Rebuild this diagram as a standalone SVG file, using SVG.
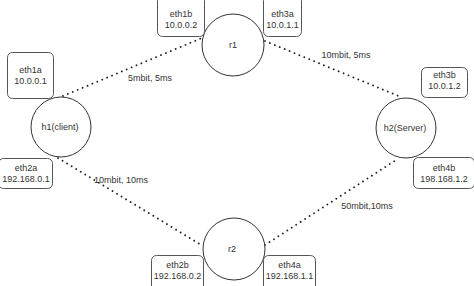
<svg xmlns="http://www.w3.org/2000/svg" width="474" height="286" viewBox="0 0 474 286">
<style>
text{font-family:"Liberation Sans",Arial,sans-serif;font-size:9px;fill:#333;text-anchor:middle}
.box{fill:#fff;stroke:#555;stroke-width:1}
.node{fill:#fff;stroke:#333;stroke-width:1}
.link{stroke:#222;stroke-width:1.9;stroke-dasharray:0.01 5.3;stroke-linecap:round;fill:none}
</style>
<rect width="474" height="286" fill="#fff"/>
<g id="connectors">
<line class="link" x1="63" y1="96" x2="202" y2="38"/>
<line class="link" x1="265" y1="41" x2="401" y2="97"/>
<line class="link" x1="58" y1="158" x2="203" y2="246"/>
<line class="link" x1="265" y1="245" x2="396" y2="160"/>
<text x="150" y="81">5mbit, 5ms</text>
<text x="346" y="58">10mbit, 5ms</text>
<text x="121" y="183">10mbit, 10ms</text>
<text x="367" y="209">50mbit,10ms</text>
</g>
<g id="r1"><circle class="node" cx="233" cy="45" r="31"/><text x="233" y="48">r1</text></g>
<g id="h1"><circle class="node" cx="61" cy="127" r="30"/><text x="60" y="130">h1(client)</text></g>
<g id="h2"><circle class="node" cx="406" cy="128" r="30"/><text x="405" y="131">h2(Server)</text></g>
<g id="r2"><circle class="node" cx="234" cy="249" r="31"/><text x="232" y="252">r2</text></g>
<g id="eth1a"><rect class="box" x="7.5" y="52.5" width="46" height="46" rx="5"/><text x="30.5" y="73">eth1a</text><text x="30.5" y="84">10.0.0.1</text></g>
<g id="eth1b"><rect class="box" x="157.5" y="-4.5" width="47" height="41" rx="5"/><text x="181" y="17">eth1b</text><text x="181" y="28">10.0.0.2</text></g>
<g id="eth3a"><rect class="box" x="263.5" y="-4.5" width="38" height="41" rx="5"/><text x="282.5" y="17">eth3a</text><text x="282.5" y="28">10.0.1.1</text></g>
<g id="eth3b"><rect class="box" x="421.5" y="67.5" width="46" height="30" rx="5"/><text x="444.5" y="78">eth3b</text><text x="444.5" y="89">10.0.1.2</text></g>
<g id="eth2a"><rect class="box" x="-1.5" y="158.5" width="54" height="30" rx="5"/><text x="26" y="171">eth2a</text><text x="26" y="182">192.168.0.1</text></g>
<g id="eth4b"><rect class="box" x="413.5" y="157.5" width="61" height="31" rx="5"/><text x="444" y="171">eth4b</text><text x="444" y="182">198.168.1.2</text></g>
<g id="eth2b"><rect class="box" x="151.5" y="255.5" width="52" height="36" rx="5"/><text x="177.5" y="268">eth2b</text><text x="177.5" y="279">192.168.0.2</text></g>
<g id="eth4a"><rect class="box" x="263.5" y="255.5" width="52" height="36" rx="5"/><text x="289.5" y="268">eth4a</text><text x="289.5" y="279">192.168.1.1</text></g>
</svg>
